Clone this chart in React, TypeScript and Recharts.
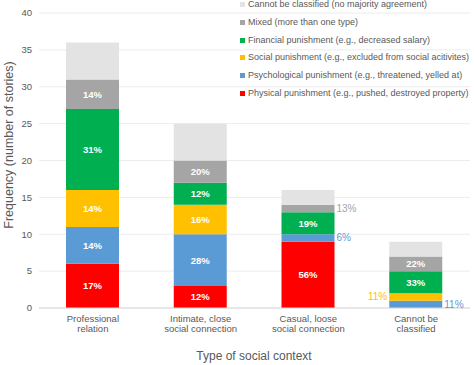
import { Bar, BarChart, CartesianGrid, Label, LabelList, XAxis, YAxis } from "recharts";

const contexts = [
  "Professional\nrelation",
  "Intimate, close\nsocial connection",
  "Casual, loose\nsocial connection",
  "Cannot be\nclassified",
];

// story counts per context, bottom of the stack first
const physical = [6, 3, 9, 0];
const psychological = [5, 7, 1, 1];
const social = [5, 4, 0, 1];
const financial = [11, 3, 3, 3];
const mixed = [4, 3, 1, 2];
const unclassified = [5, 5, 2, 2];

// percentage labels as printed on the bars
const physicalPct = ["17%", "12%", "56%", ""];
const psychologicalPct = ["14%", "28%", "6%", "11%"];
const socialPct = ["14%", "16%", "", "11%"];
const financialPct = ["31%", "12%", "19%", "33%"];
const mixedPct = ["14%", "20%", "13%", "22%"];
const unclassifiedPct = ["", "", "", ""];

const yTicks = [0, 5, 10, 15, 20, 25, 30, 35, 40];

const font = "'Liberation Sans', Arial, sans-serif";
const textGray = "#595959";

type Place = "in" | "left" | "right";

const series = [
  { key: "physical", name: "Physical punishment (e.g., pushed, destroyed property)", color: "#ff0000", values: physical, pct: physicalPct, place: ["in", "in", "in", "in"] as Place[] },
  { key: "psychological", name: "Psychological punishment (e.g., threatened, yelled at)", color: "#5b9bd5", values: psychological, pct: psychologicalPct, place: ["in", "in", "right", "right"] as Place[] },
  { key: "social", name: "Social punishment (e.g., excluded from social acitivites)", color: "#ffc000", values: social, pct: socialPct, place: ["in", "in", "in", "left"] as Place[] },
  { key: "financial", name: "Financial punishment (e.g., decreased salary)", color: "#00b050", values: financial, pct: financialPct, place: ["in", "in", "in", "in"] as Place[] },
  { key: "mixed", name: "Mixed (more than one type)", color: "#a5a5a5", values: mixed, pct: mixedPct, place: ["in", "in", "right", "in"] as Place[] },
  { key: "unclassified", name: "Cannot be classified (no majority agreement)", color: "#e3e3e3", values: unclassified, pct: unclassifiedPct, place: ["in", "in", "in", "in"] as Place[] },
];

const data = contexts.map((c, i) => {
  const row: Record<string, string | number> = { context: c, idx: i };
  series.forEach((s) => (row[s.key] = s.values[i]));
  return row;
});

// the label value is the row index, so zero-height segments can't shift it
function segmentLabel(pct: string[], place: Place[], color: string) {
  return (props: any) => {
    const { x, y, width, height, value } = props;
    const i = Number(value);
    const text = pct[i];
    if (!text) return null;
    const cy = Number(y) + Number(height) / 2;
    const p = place[i];
    if (p === "in") {
      return (
        <text x={Number(x) + Number(width) / 2} y={cy} textAnchor="middle" dominantBaseline="central"
          fill="#ffffff" fontWeight="bold" fontSize={9.5} fontFamily={font}>
          {text}
        </text>
      );
    }
    const tx = p === "right" ? Number(x) + Number(width) + 2 : Number(x) - 2;
    return (
      <text x={tx} y={cy} textAnchor={p === "right" ? "start" : "end"} dominantBaseline="central"
        fill={color} fontSize={10} fontFamily={font}>
        {text}
      </text>
    );
  };
}

function ContextTick(props: any) {
  const { x, y, payload } = props;
  const lines = String(payload.value).split("\n");
  return (
    <text x={x} y={y} textAnchor="middle" fill={textGray} fontSize={9.5} fontFamily={font}>
      {lines.map((l, i) => (
        <tspan key={i} x={x} y={Number(y) + 13.5 + i * 10.5}>{l}</tspan>
      ))}
    </text>
  );
}

export default function App() {
  return (
    <div style={{ position: "absolute", left: 0, top: 0, width: 474, height: 365, background: "#fff", fontFamily: font }}>
      <BarChart width={474} height={365} data={data} barSize={53} margin={{ top: 13, right: 4, left: 0, bottom: 0 }}>
        <CartesianGrid vertical={false} stroke="#ececec" />
        <XAxis dataKey="context" height={57} tickSize={0} tickMargin={0} tick={<ContextTick />}
          axisLine={{ stroke: "#d9d9d9" }} tickLine={false} interval={0}>
          <Label content={() => (
            <text x={254} y={360} textAnchor="middle" fill={textGray} fontSize={12} fontFamily={font}>
              Type of social context
            </text>
          )} />
        </XAxis>
        <YAxis width={39} domain={[0, 40]} ticks={yTicks} tickSize={0} tickMargin={7} axisLine={false} tickLine={false}
          tick={{ fill: textGray, fontSize: 9.5, fontFamily: font }}>
          <Label content={() => (
            <text x={9} y={145} transform="rotate(-90, 9, 145)" textAnchor="middle" dominantBaseline="central"
              fill={textGray} fontSize={12.5} fontFamily={font}>
              Frequency (number of stories)
            </text>
          )} />
        </YAxis>
        {series.map((s) => (
          <Bar key={s.key} dataKey={s.key} name={s.name} stackId="a" fill={s.color} isAnimationActive={false}>
            <LabelList dataKey="idx" content={segmentLabel(s.pct, s.place, s.color)} />
          </Bar>
        ))}
      </BarChart>
      <div style={{ position: "absolute", left: 240, top: -4, fontSize: 9, color: textGray, lineHeight: 1 }}>
        {[...series].reverse().map((s) => (
          <div key={s.key} style={{ display: "flex", alignItems: "center", height: 17.7, whiteSpace: "nowrap" }}>
            <span style={{ display: "inline-block", width: 5, height: 5, background: s.color, marginRight: 3 }} />
            {s.name}
          </div>
        ))}
      </div>
    </div>
  );
}
